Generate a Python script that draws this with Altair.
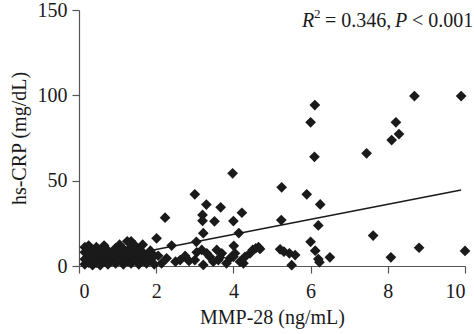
import altair as alt
import pandas as pd

# MMP-28 (ng/mL) and hs-CRP (mg/dL) values
mmp28 = [
    # dense low cluster
    0.15, 0.15, 0.15, 0.15, 0.25, 0.25, 0.25, 0.35, 0.35, 0.35,
    0.45, 0.45, 0.45, 0.55, 0.55, 0.55, 0.65, 0.65, 0.65, 0.75,
    0.75, 0.75, 0.85, 0.85, 0.95, 0.95, 0.95, 1.05, 1.05, 1.05,
    1.15, 1.15, 1.15, 1.25, 1.25, 1.25, 1.35, 1.35, 1.35, 1.35,
    1.45, 1.45, 1.45, 1.55, 1.55, 1.55, 1.65, 1.65, 1.65, 1.75,
    1.75, 1.85, 1.85, 1.95, 1.95,
    # 2 - 4.7 band
    2.01, 2.23, 2.40, 2.05, 2.14, 2.27, 2.50, 2.62, 2.75, 2.85,
    3.00, 3.05, 3.18, 3.22, 3.31, 3.39, 3.48, 3.57, 3.61, 3.65,
    3.70, 3.82, 3.91, 4.00, 4.04, 4.17, 4.26, 4.30, 4.43, 4.50,
    4.58, 4.65,
    3.98, 3.00, 3.30, 3.67, 4.22, 3.20, 3.20, 3.51, 4.00, 4.14,
    3.22, 3.04, 4.01,
    # higher MMP-28
    6.11, 6.00, 6.10, 5.25, 5.90, 6.25, 5.24, 6.20, 6.00, 6.12,
    6.20, 6.23, 6.50, 5.21, 5.31, 5.45, 5.60, 5.51, 4.69, 7.45,
    7.62, 8.08, 8.10, 8.29, 8.21, 8.69, 9.90, 8.81, 10.0,
]
hscrp = [
    1.0, 4.0, 8.0, 11.0, 2.0, 6.0, 12.0, 0.5, 3.5, 9.0,
    2.0, 7.0, 11.0, 0.5, 4.5, 9.5, 2.5, 6.5, 12.0, 1.0,
    5.0, 9.0, 3.0, 7.5, 1.5, 5.5, 10.5, 3.5, 8.0, 12.5,
    1.0, 6.0, 10.0, 3.0, 8.5, 14.5, 1.5, 5.0, 11.0, 14.5,
    3.5, 8.0, 12.0, 1.0, 6.0, 10.0, 3.0, 8.0, 12.5, 1.5,
    5.5, 3.5, 9.0, 1.0, 6.0,
    16.2, 28.3, 12.0, 6.0, 1.6, 4.5, 2.5, 3.5, 5.9, 3.0,
    3.5, 8.0, 9.4, 0.6, 7.4, 5.4, 2.5, 9.4, 3.5, 5.0,
    7.4, 1.6, 4.5, 5.4, 7.4, 2.5, 1.6, 5.4, 7.4, 9.4,
    10.4, 11.0,
    54.3, 42.0, 36.0, 34.4, 31.2, 29.9, 26.5, 26.2, 26.3, 19.3,
    19.2, 14.2, 11.8,
    94.3, 84.2, 64.0, 46.1, 42.0, 36.1, 26.9, 23.8, 14.2, 9.0,
    4.1, 2.2, 5.1, 9.8, 8.4, 7.4, 6.4, 0.5, 10.0, 66.0,
    17.8, 5.1, 73.8, 77.3, 84.2, 99.6, 99.6, 10.7, 8.8,
]

# regression line end points
fit_x = [0.1, 9.9]
fit_y = [1.3, 44.5]

x_ticks = [0, 2, 4, 6, 8, 10]
y_ticks = [0, 50, 100, 150]

FONT = "Liberation Serif"
INK = "#1a1a1a"

pts = pd.DataFrame({"mmp": mmp28, "crp": hscrp})
fit = pd.DataFrame({"mmp": fit_x, "crp": fit_y})

xscale = alt.Scale(domain=[0, 10], nice=False, zero=True)
yscale = alt.Scale(domain=[0, 150], nice=False, zero=True)

xaxis = alt.Axis(values=x_ticks, title="MMP-28 (ng/mL)", grid=False,
                 labelPadding=8, titlePadding=6)
yaxis = alt.Axis(values=y_ticks, title="hs-CRP (mg/dL)", grid=False,
                 labelPadding=5, titlePadding=8)

line = alt.Chart(fit).mark_line(color=INK, strokeWidth=1.4).encode(
    x=alt.X("mmp:Q", scale=xscale, axis=xaxis),
    y=alt.Y("crp:Q", scale=yscale, axis=yaxis),
)

points = alt.Chart(pts).mark_point(
    shape="diamond", filled=True, size=115, color=INK, opacity=1
).encode(
    x=alt.X("mmp:Q", scale=xscale),
    y=alt.Y("crp:Q", scale=yscale),
)

def txt(t, x, y, size=20, style="normal"):
    return alt.Chart(pd.DataFrame({"t": [t]})).mark_text(
        font=FONT, fontSize=size, fontStyle=style, align="left",
        baseline="alphabetic", color=INK
    ).encode(x=alt.value(x), y=alt.value(y), text="t:N")

ann = [
    txt("R", 223, 17, style="italic"),
    txt("2", 235, 8, size=13),
    txt("= 0.346,", 246, 17),
    txt("P", 316, 17, style="italic"),
    txt("< 0.001", 333, 17),
]

chart = alt.layer(line, points, *ann).properties(
    width=386, height=256,
    autosize=alt.AutoSizeParams(type="none"),
    padding={"left": 79, "top": 10, "right": 9, "bottom": 68},
    background="white",
).configure_view(stroke=None).configure_axis(
    labelFont=FONT, titleFont=FONT, labelFontSize=20, titleFontSize=20,
    titleFontWeight="normal", labelColor=INK, titleColor=INK,
    domainColor="#555555", tickColor="#555555", tickSize=7,
    domainWidth=1.2, tickWidth=1.2,
)

chart.save("out.html", embed_options={"renderer": "svg", "actions": False})
